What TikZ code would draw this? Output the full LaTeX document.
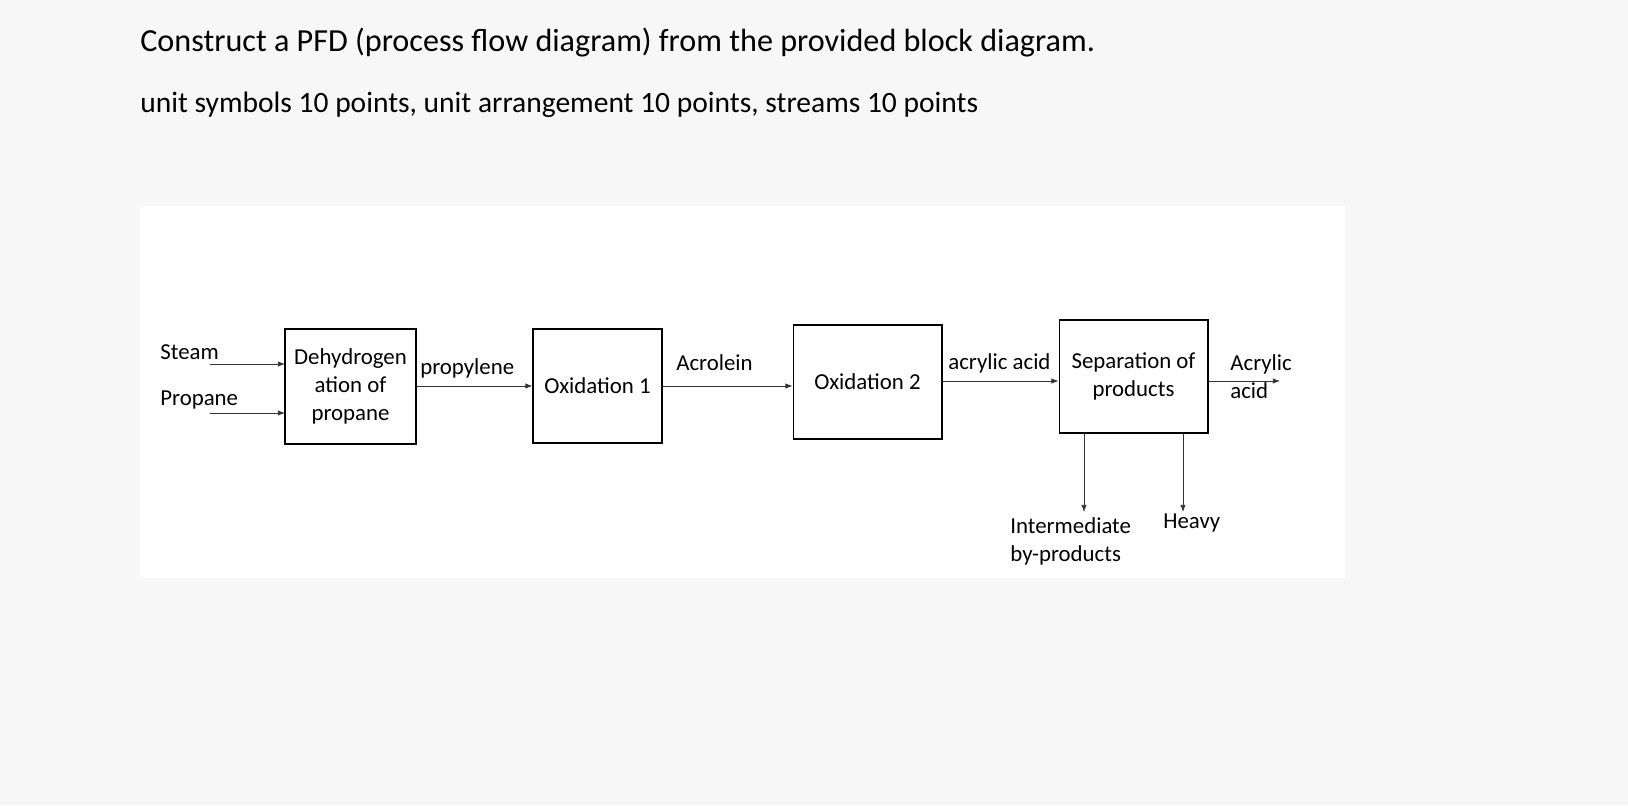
\documentclass[tikz,border=0pt]{standalone}
\usepackage{fontspec}
\setmainfont{Carlito}
\usetikzlibrary{arrows.meta}
\begin{document}
\begin{tikzpicture}[x=0.02cm,y=-0.02cm,
  blk/.style={draw,line width=0.6pt,inner sep=0pt,align=center,font=\fontsize{13}{16}\selectfont},
  lbl/.style={inner sep=0pt,anchor=west,font=\fontsize{13}{16}\selectfont,align=left},
  flow/.style={line width=0.4pt,draw=black!80,-{Latex[length=4pt,width=3pt]}}]
\useasboundingbox (0,0) rectangle (1628,805);
\fill[black!3] (0,0) rectangle (1628,805);
\fill[white] (140,206) rectangle (1345,578);
\node[inner sep=0pt,anchor=west,font=\fontsize{18.3}{22}\selectfont] (title) at (140,43) {Construct a PFD (process flow diagram) from the provided block diagram.};
\node[inner sep=0pt,anchor=west,font=\fontsize{16.8}{20}\selectfont] (sub) at (140,105) {unit symbols 10 points, unit arrangement 10 points, streams 10 points};
\node[blk,minimum width=2.62cm,minimum height=2.3cm] (b1) at (350.5,386.5) {Dehydrogen\\ation of\\propane};
\node[blk,minimum width=2.58cm,minimum height=2.28cm] (b2) at (597.5,386) {Oxidation 1};
\node[blk,minimum width=2.98cm,minimum height=2.28cm] (b3) at (867.5,382) {Oxidation 2};
\node[blk,minimum width=2.98cm,minimum height=2.26cm] (b4) at (1133.5,376.5) {Separation of\\products};
\coordinate (s0) at (210,364); \coordinate (s1) at (285,364);
\coordinate (p0) at (210,413); \coordinate (p1) at (285,413);
\coordinate (out) at (1280,381);
\coordinate (d1) at (1084,512); \coordinate (d2) at (1183,512);
\node[lbl] (steam) at (160,352) {Steam};
\node[lbl] (propane) at (160,400) {Propane};
\node[lbl] (propylene) at (420,368) {propylene};
\node[lbl] (acrolein) at (676,363) {Acrolein};
\node[lbl] (aa) at (948,363) {acrylic acid};
\node[lbl] (AA) at (1230,377) {Acrylic\\acid};
\node[lbl] (inter) at (1010,541) {Intermediate\\by-products};
\node[lbl] (heavy) at (1163,523) {Heavy};
\draw[flow] (s0) -- (s1);
\draw[flow] (p0) -- (p1);
\draw[flow] (b1.east |- 0,386) -- (b2.west |- 0,386);
\draw[flow] (b2.east |- 0,386) -- (b3.west |- 0,386);
\draw[flow] (b3.east |- 0,381) -- (b4.west |- 0,381);
\draw[flow] (b4.east |- out) -- (out);
\draw[flow] (b4.south -| d1) -- (d1);
\draw[flow] (b4.south -| d2) -- (d2);
\end{tikzpicture}
\end{document}
